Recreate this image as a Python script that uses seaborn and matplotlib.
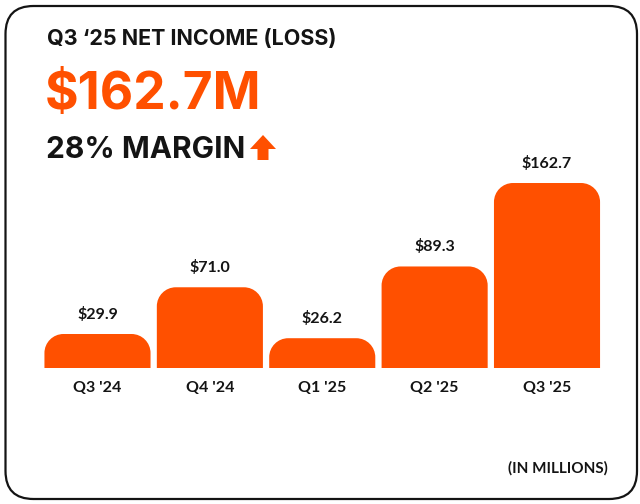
import matplotlib
matplotlib.use("Agg")
import matplotlib.pyplot as plt
import seaborn as sns
import pandas as pd
from matplotlib.path import Path
from matplotlib.patches import PathPatch, FancyBboxPatch, Polygon
from matplotlib.transforms import Affine2D

quarters = ["Q3 '24", "Q4 '24", "Q1 '25", "Q2 '25", "Q3 '25"]
net_income = [29.9, 71.0, 26.2, 89.3, 162.7]
value_labels = ["$29.9", "$71.0", "$26.2", "$89.3", "$162.7"]

ORANGE = "#FF5000"
DARK = "#141414"
W, H = 640, 504

sns.set_theme(style="white")
plt.rcParams['font.family'] = ['Lato', 'DejaVu Sans']
HEAD = ['Inter', 'DejaVu Sans']

fig = plt.figure(figsize=(6.4, 5.04), dpi=100)
px = Affine2D().scale(1 / W, -1 / H).translate(0, 1) + fig.transFigure

# axes: bars from x 41..603 px, baseline at y=368 px
ax_left, ax_right = 41.3, 603.2
base_y = 368
ymax = 190
scale = 1.137
ax_h = ymax * scale
ax = fig.add_axes([ax_left / W, (H - base_y) / H, (ax_right - ax_left) / W, ax_h / H])
ax.patch.set_alpha(0)

df = pd.DataFrame({"quarter": quarters, "value": net_income})
sns.barplot(data=df, x="quarter", y="value", color=ORANGE, width=0.944,
            saturation=1, ax=ax)
ax.set_xlim(-0.5, 4.5)
ax.set_ylim(0, ymax)

# rounded top corners
rpx = 19
rx = rpx / ((ax_right - ax_left) / 5)
ry = rpx / scale
k = 0.5523
for bar in list(ax.patches):
    x0, y0 = bar.get_x(), bar.get_y()
    w, h = bar.get_width(), bar.get_height()
    x1, y1 = x0 + w, y0 + h
    verts = [
        (x0, y0), (x0, y1 - ry),
        (x0, y1 - ry + k * ry), (x0 + rx - k * rx, y1), (x0 + rx, y1),
        (x1 - rx, y1),
        (x1 - rx + k * rx, y1), (x1, y1 - ry + k * ry), (x1, y1 - ry),
        (x1, y0), (x0, y0)]
    codes = [Path.MOVETO, Path.LINETO,
             Path.CURVE4, Path.CURVE4, Path.CURVE4,
             Path.LINETO,
             Path.CURVE4, Path.CURVE4, Path.CURVE4,
             Path.LINETO, Path.CLOSEPOLY]
    ax.add_patch(PathPatch(Path(verts, codes), facecolor=ORANGE,
                           edgecolor="none", transform=ax.transData))
    bar.set_visible(False)

ax.bar_label(ax.containers[0], labels=value_labels, padding=9,
             fontsize=11.5, fontweight="bold", color=DARK)

for s in ax.spines.values():
    s.set_visible(False)
ax.set_yticks([])
ax.set_xlabel("")
ax.set_ylabel("")
ax.tick_params(axis="x", length=0, pad=9)
for t in ax.get_xticklabels():
    t.set_fontsize(11.5)
    t.set_fontweight("bold")
    t.set_color(DARK)

# border
fig.patches.append(FancyBboxPatch((5.5, 6), 631.5, 493, boxstyle="round,pad=0,rounding_size=28",
                                  transform=px, facecolor="none", edgecolor=DARK,
                                  linewidth=1.6))

# texts
fig.text(47 / W, 1 - 45.5 / H, "Q3 \u201825 NET INCOME (LOSS)", fontsize=15.5,
         fontweight="bold", family=HEAD, color=DARK, va="baseline", ha="left")
fig.text(45 / W, 1 - 109.5 / H, "$162.7M", fontsize=37, fontweight="bold",
         family=HEAD, color=ORANGE, va="baseline", ha="left")
fig.text(46 / W, 1 - 158 / H, "28% MARGIN", fontsize=21.5, fontweight="bold",
         family=HEAD, color=DARK, va="baseline", ha="left")
fig.text(608 / W, 1 - 473 / H, "(IN MILLIONS)", fontsize=11, fontweight="bold",
         color=DARK, va="baseline", ha="right")

# up arrow
arrow = [(263, 135), (276, 149), (268.5, 149), (268.5, 160), (257.5, 160),
         (257.5, 149), (250, 149)]
fig.patches.append(Polygon(arrow, closed=True, transform=px, facecolor=ORANGE,
                           edgecolor="none"))

fig.savefig("out.png", dpi=100)
